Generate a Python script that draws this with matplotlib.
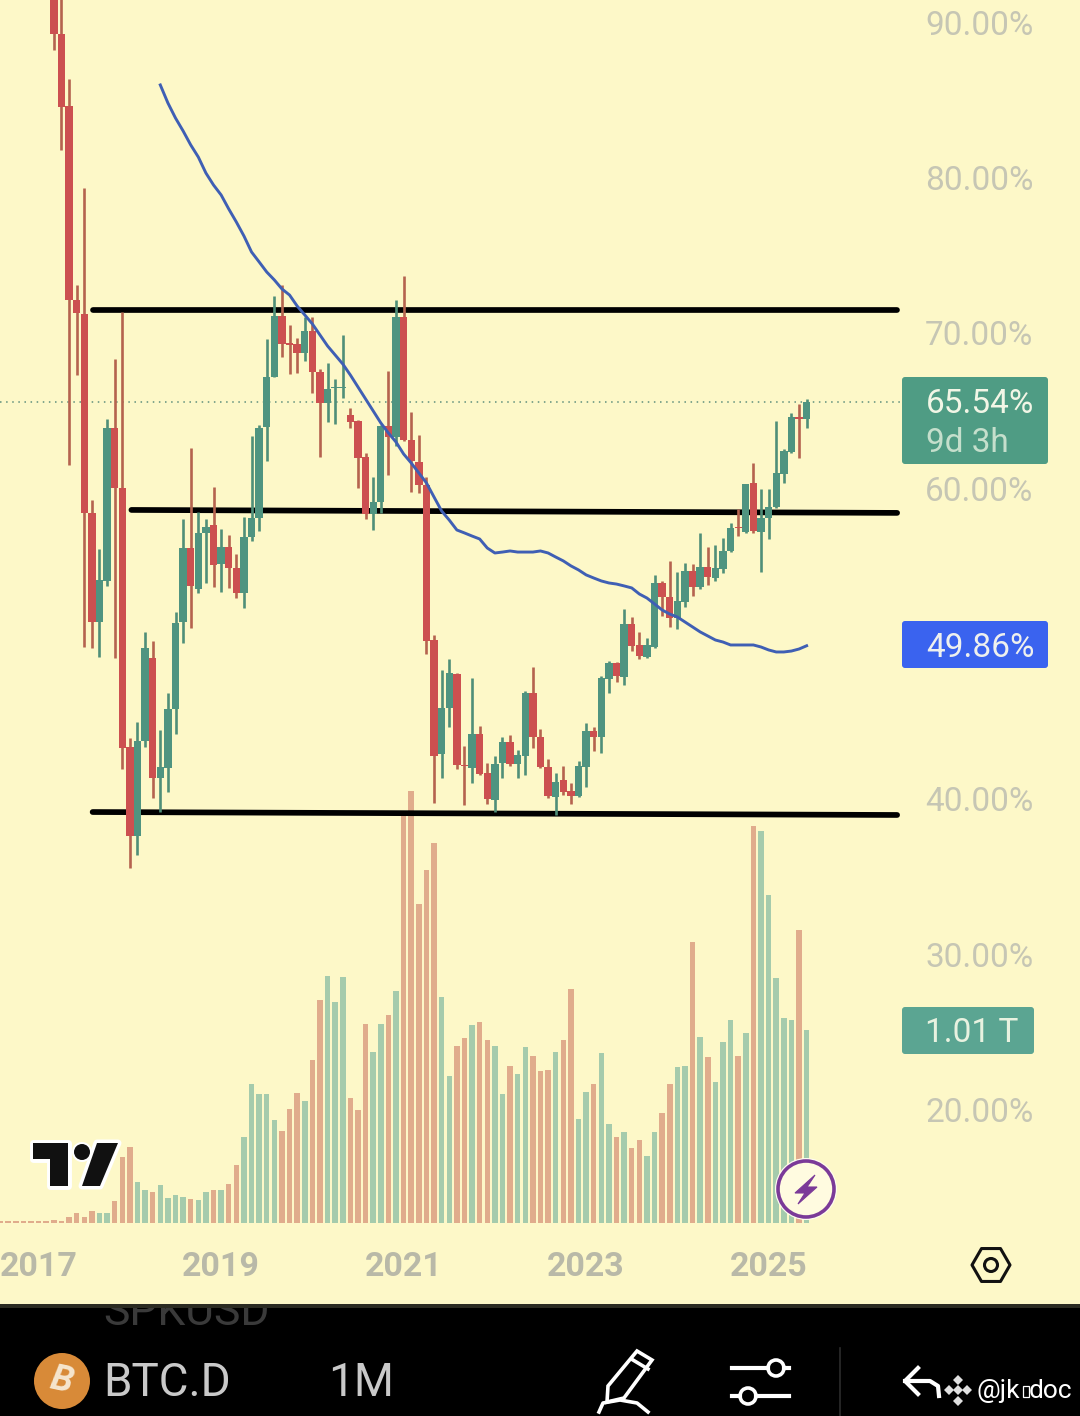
import numpy as np
import matplotlib
matplotlib.use('Agg')
import matplotlib.pyplot as plt
from matplotlib.patches import Circle, Polygon, FancyBboxPatch, Rectangle

# months since jan 2017, candles start at month 2
opens = [93.5, 89.23, 84.60, 72.11, 71.21, 58.40, 51.39, 54.03, 63.87, 60.01, 43.35, 37.62, 43.73, 49.07, 41.35, 42.0, 45.79, 51.39, 56.15, 53.51,
         57.12, 57.63, 55.12, 56.22, 54.86, 53.26, 56.86, 58.08, 63.94, 67.16, 71.08, 69.34, 69.28, 68.7, 70.12, 67.48, 65.48, 66.45, 66.45, 64.71,
         64.32, 62.01, 58.34, 59.11, 64.0, 63.3, 71.02, 63.1, 61.69, 60.21, 50.23, 42.9, 45.86, 48.04, 42.19, 42.0, 44.18, 41.67, 39.94, 42.32,
         43.67, 42.25, 42.77, 46.82, 43.99, 42.06, 40.13, 41.22, 40.52, 40.19, 42.06, 44.38, 43.99, 47.72, 48.75, 47.85, 51.26, 49.91, 49.14, 49.78,
         53.9, 53.0, 51.65, 52.68, 54.67, 53.64, 54.93, 54.22, 54.8, 55.96, 57.5, 57.18, 60.34, 57.18, 58.08, 58.79, 60.91, 62.33, 64.58, 64.45]
closes = [89.23, 84.53, 72.11, 71.27, 58.40, 51.39, 54.09, 63.87, 60.01, 43.28, 37.62, 43.73, 49.72, 41.35, 42.06, 45.79, 51.33, 56.15, 53.71, 57.12,
          57.5, 55.06, 56.22, 54.86, 53.26, 56.86, 58.08, 63.87, 67.16, 71.08, 69.28, 69.22, 68.7, 70.12, 67.48, 65.48, 66.38, 66.51, 66.51, 64.26,
          61.94, 58.34, 59.11, 64.0, 63.3, 71.02, 63.1, 61.75, 60.21, 50.17, 42.77, 45.86, 48.11, 42.19, 42.12, 44.18, 41.61, 40.0, 42.25, 43.67,
          42.25, 42.83, 46.82, 43.99, 42.06, 40.19, 41.09, 40.45, 40.19, 42.12, 44.38, 43.99, 47.79, 48.75, 47.92, 51.26, 49.85, 49.2, 49.91, 53.9,
          53.0, 51.65, 52.74, 54.67, 53.64, 54.93, 54.29, 54.86, 55.96, 57.44, 57.44, 60.27, 57.25, 58.08, 58.79, 60.98, 62.39, 64.58, 64.45, 65.54]
highs = [95, 92.5, 86.33, 73.08, 79.31, 59.24, 56.09, 64.45, 68.30, 71.34, 43.92, 44.96, 50.75, 50.17, 44.44, 46.82, 52.03, 58.02, 62.59, 58.47,
         58.02, 60.08, 57.37, 56.99, 55.77, 58.15, 63.36, 64.07, 69.6, 72.37, 73.08, 70.5, 69.67, 71.02, 71.02, 67.67, 68.06, 67.03, 69.86, 65.16,
         64.39, 62.27, 60.72, 64.07, 67.54, 72.11, 73.66, 64.9, 63.42, 60.72, 50.55, 48.3, 49.01, 48.11, 43.41, 47.79, 44.7, 42.32, 42.77, 43.99,
         44.12, 43.16, 46.95, 48.5, 44.5, 42.57, 41.67, 42.12, 41.03, 42.45, 44.89, 44.63, 47.92, 48.88, 48.82, 52.23, 51.71, 50.75, 50.36, 54.42,
         54.03, 55.32, 54.61, 55.19, 55.12, 57.12, 56.22, 56.34, 56.8, 57.76, 58.66, 60.3, 61.62, 59.95, 59.95, 64.32, 62.52, 64.84, 65.42, 65.74]
lows = [88.2, 81.76, 61.49, 67.28, 49.78, 49.71, 49.14, 53.71, 49.07, 41.93, 35.56, 36.40, 43.35, 40.06, 39.17, 40.45, 44.18, 50.04, 51.0, 53.26,
        53.9, 53.64, 53.32, 53.58, 52.93, 52.29, 56.6, 57.25, 61.75, 67.16, 68.44, 67.35, 67.41, 68.19, 66.13, 62.01, 64.26, 64.13, 65.8, 63.87,
        60.01, 58.02, 57.31, 58.4, 60.85, 62.72, 63.04, 59.76, 59.69, 49.33, 39.74, 41.35, 44.63, 41.93, 39.62, 41.03, 41.54, 39.68, 39.17, 41.35,
        42.12, 41.35, 41.54, 43.28, 42.0, 40.06, 38.97, 40.26, 39.68, 40.13, 40.77, 43.09, 42.96, 46.82, 47.53, 47.34, 49.52, 49.01, 49.1, 49.72,
        51.78, 51.07, 50.94, 52.36, 53.06, 53.51, 53.77, 54.03, 54.54, 55.9, 56.92, 57.12, 57.12, 54.61, 56.73, 58.72, 60.33, 62.27, 61.94, 63.87]

# moving average, starts at month 16
ma_line = [85.95, 84.79, 83.82, 82.99, 82.09, 81.31, 80.28, 79.51, 78.87, 77.97, 77.13, 76.23, 75.2, 74.56, 73.91, 73.4, 72.82, 72.43, 71.72, 71.15,
           70.57, 69.86, 69.15, 68.57, 67.99, 67.28, 66.51, 65.74, 64.97, 64.2, 63.55, 62.97, 62.2, 61.62, 60.98, 60.34, 59.43, 58.53, 57.95, 57.31,
           57.12, 56.92, 56.73, 56.15, 55.83, 55.89, 55.96, 55.89, 55.89, 55.89, 55.96, 55.83, 55.57, 55.32, 55.0, 54.74, 54.42, 54.22, 54.03, 53.9,
           53.83, 53.71, 53.58, 53.19, 52.93, 52.55, 52.16, 51.9, 51.71, 51.39, 51.07, 50.75, 50.49, 50.23, 50.1, 49.91, 49.91, 49.91, 49.91, 49.78,
           49.59, 49.46, 49.46, 49.52, 49.65, 49.86]

# volume in trillions, starts at month -5
volume = [0.008, 0.008, 0.008, 0.008, 0.008, 0.008, 0.008, 0.016, 0.008, 0.029, 0.052, 0.034, 0.063, 0.052, 0.052, 0.115, 0.345, 0.397, 0.214, 0.173,
          0.162, 0.199, 0.131, 0.146, 0.136, 0.126, 0.120, 0.162, 0.173, 0.173, 0.204, 0.303, 0.450, 0.727, 0.675, 0.675, 0.539, 0.481, 0.596, 0.680,
          0.638, 0.852, 1.166, 1.292, 1.156, 1.287, 0.654, 0.591, 1.041, 0.894, 1.041, 1.088, 1.213, 2.155, 2.259, 1.668, 1.846, 1.987, 1.182, 0.769,
          0.926, 0.968, 1.036, 1.051, 0.957, 0.926, 0.675, 0.821, 0.779, 0.920, 0.873, 0.795, 0.800, 0.894, 0.957, 1.224, 0.544, 0.685, 0.727, 0.889,
          0.518, 0.450, 0.476, 0.392, 0.434, 0.350, 0.476, 0.575, 0.727, 0.816, 0.821, 1.470, 0.973, 0.868, 0.737, 0.947, 1.062, 0.873, 0.994, 2.076,
          2.050, 1.715, 1.281, 1.072, 1.062, 1.532, 1.01]

price_ticks = [20, 30, 40, 50, 60, 70, 80, 90]
year_ticks = [0, 24, 48, 72, 96]
year_labels = ['2017', '2019', '2021', '2023', '2025']
last_price = 65.54
last_ma = 49.86
last_vol = '1.01 T'
countdown = '9d 3h'

# hand drawn levels, (month, percent)
level_top = ([7.1, 112.9], [71.47, 71.47])
level_mid = ([12.2, 112.9], [58.6, 58.41])
level_low = ([7.1, 112.9], [39.16, 38.97])

BG = '#fdf8c8'
RED = '#cc5050'
GREEN = '#4f9480'
RED_W = '#b5634f'
GREEN_W = '#4f8f78'
RED_V = '#e0ac8c'
GREEN_V = '#a5cbac'
AXIS_TXT = '#c6c6b4'

plt.rcParams['font.family'] = ['Roboto', 'DejaVu Sans']

fig = plt.figure(figsize=(10.8, 14.16), dpi=100, facecolor='black')
# chart panel, 1304 px tall, linear scale
vax = fig.add_axes([0, 112 / 1416, 1, 1304 / 1416], facecolor=BG)
ax = fig.add_axes([0, 112 / 1416, 1, 1304 / 1416], facecolor='none')

xlim = (-5.08, 136.95)
ax.set_xlim(xlim)
ax.set_ylim(7.5, 91.416)
vax.set_xlim(xlim)
vax.set_ylim(-0.4236, 6.396)

months = np.arange(2, 2 + len(opens))
up = np.array(closes) >= np.array(opens)
body_col = [GREEN if u else RED for u in up]
wick_col = [GREEN_W if u else RED_W for u in up]

vol_x = np.arange(-5, -5 + len(volume))
vol_col = [RED_V] * 7 + [GREEN_V if u else RED_V for u in up]
vax.bar(vol_x, volume, width=0.72, color=vol_col, linewidth=0)

ax.axhline(last_price, xmax=900 / 1080, color='#5f8f7c', lw=1.1, ls=(0, (1, 3)), zorder=1)
for lx, ly in [level_top, level_mid, level_low]:
    ax.plot(lx, ly, color='black', lw=4.1, solid_capstyle='round', zorder=2)

ax.vlines(months, lows, highs, colors=wick_col, lw=1.9, zorder=3)
bottoms = np.minimum(opens, closes)
heights = np.maximum(np.abs(np.array(closes) - np.array(opens)), 0.08)
ax.bar(months, heights, bottom=bottoms, width=0.97, color=body_col, linewidth=0, zorder=4)

ma_x = np.arange(16, 16 + len(ma_line))
ax.plot(ma_x, ma_line, color='#3f5fb4', lw=2.1, zorder=5)

ax.set_yticks(price_ticks)
ax.set_yticklabels(['%.2f%%' % t for t in price_ticks], fontsize=24, color=AXIS_TXT, ha='left', va='center_baseline')
ax.yaxis.tick_right()
ax.tick_params(axis='y', length=0, pad=-111.5)
ax.set_xticks(year_ticks)
ax.set_xticklabels(year_labels, fontsize=24.5, color='#b9b9a8', fontweight='bold')
ax.tick_params(axis='x', length=0, pad=-38)
vax.set_xticks([])
vax.set_yticks([])
for a in (ax, vax):
    for s in a.spines.values():
        s.set_visible(False)

# app furniture, in pixels
ov = fig.add_axes([0, 0, 1, 1], facecolor='none')
ov.set_xlim(0, 1080)
ov.set_ylim(1416, 0)
ov.axis('off')


def box(x0, y0, x1, y1, col):
    ov.add_patch(FancyBboxPatch((x0 + 3, y0 + 3), x1 - x0 - 6, y1 - y0 - 6, boxstyle='round,pad=3,rounding_size=3',
                                fc=col, ec='none'))


box(902, 377, 1048, 464, '#4f9c84')
ov.text(980, 404, '%.2f%%' % last_price, color='#f2f6e6', fontsize=24, ha='center', va='center')
ov.text(967, 443, countdown, color='#c5dfcc', fontsize=24, ha='center', va='center')
box(902, 621, 1048, 668, '#3a63ef')
ov.text(980, 648, '%.2f%%' % last_ma, color='#eef0ee', fontsize=24, ha='center', va='center')
box(902, 1007, 1034, 1054, '#5ba592')
ov.text(972, 1033, last_vol, color='#e8f2e0', fontsize=24, ha='center', va='center')

# tradingview logo
logo_t = [(33, 1143), (68, 1143), (68, 1186), (50, 1186), (50, 1159), (33, 1159)]
logo_s = [(97, 1143), (118, 1143), (100, 1186), (82, 1186)]
for pts in (logo_t, logo_s):
    ov.add_patch(Polygon(pts, fc='white', ec='white', lw=5, joinstyle='round'))
ov.add_patch(Circle((82, 1152), 10, fc='white', ec='none'))
for pts in (logo_t, logo_s):
    ov.add_patch(Polygon(pts, fc='#111111', ec='none'))
ov.add_patch(Circle((82, 1152), 8, fc='#111111', ec='none'))

# flash button
ov.add_patch(Circle((806, 1189), 31, fc='#fffdf0', ec='none'))
ov.add_patch(Circle((806, 1189), 28, fc='#fffbe0', ec='#7b3a98', lw=2.6))
ov.add_patch(Polygon([(815, 1175), (807, 1187), (817, 1187), (798, 1204), (805, 1193), (795, 1193)],
                     fc='#7b3a98', ec='#7b3a98', lw=0.8))

# settings hexagon
hx = 991 + 19 * np.cos(np.radians(np.arange(0, 360, 60)))
hy = 1265 + 19 * np.sin(np.radians(np.arange(0, 360, 60)))
ov.add_patch(Polygon(list(zip(hx, hy)), fc='none', ec='#111111', lw=2.2, joinstyle='round'))
ov.add_patch(Circle((991, 1265), 6.5, fc='none', ec='#111111', lw=2.2))

# bottom bar
ov.add_patch(Rectangle((0, 1304), 1080, 112, fc='black', ec='none'))
ov.add_patch(Rectangle((0, 1304), 1080, 4, fc='#2b2b22', ec='none'))
sym = ov.text(103, 1313, 'SPKUSD', color='#3a3a3a', fontsize=32, ha='left', va='center')
# only the lower part shows under the chart edge
sym_clip = Rectangle((0, 1308), 1080, 40, transform=ov.transData)
sym.set_clip_path(sym_clip)
sym.set_clip_on(True)
ov.add_patch(Circle((62, 1381), 28, fc='#d88a38', ec='none'))
ov.text(62, 1381, 'B', color='#f6e6cf', fontsize=26, fontweight='bold', ha='center', va='center', rotation=-12, style='italic')
ov.text(103, 1383, 'BTC.D', color='#c9c9c9', fontsize=33, ha='left', va='center')
ov.text(328, 1383, '1M', color='#c9c9c9', fontsize=33, ha='left', va='center')

# pencil
ov.add_patch(Polygon([(637, 1351), (652, 1360), (624, 1398), (607, 1402), (608, 1386)], fc='none', ec='white', lw=2.6))
ov.plot([633, 648], [1360, 1369], color='white', lw=2.6)
ov.plot([599, 603, 620, 637, 648], [1412, 1403, 1400, 1403, 1412], color='white', lw=2.6)
# sliders
ov.plot([732, 768], [1368, 1368], color='white', lw=3)
ov.plot([784, 789], [1368, 1368], color='white', lw=3)
ov.add_patch(Circle((776, 1368), 8, fc='none', ec='white', lw=2.6))
ov.plot([732, 740], [1396, 1396], color='white', lw=3)
ov.plot([756, 789], [1396, 1396], color='white', lw=3)
ov.add_patch(Circle((748, 1396), 8, fc='none', ec='white', lw=2.6))
ov.plot([840, 840], [1348, 1416], color='#2c2c2c', lw=1.2)
# undo arrow
ov.plot([905, 930, 938, 939], [1381, 1381, 1386, 1396], color='white', lw=3)
ov.plot([918, 905, 918], [1368, 1381, 1394], color='white', lw=3)
# watermark
for dx, dy in [(958, 1380), (949, 1390), (967, 1390), (958, 1401), (958, 1390)]:
    ov.add_patch(Polygon([(dx, dy - 5), (dx + 5, dy), (dx, dy + 5), (dx - 5, dy)], fc='#e0e0e0', ec='none'))
ov.text(976, 1391, '@jk', color='white', fontsize=19, ha='left', va='center')
ov.text(1029, 1391, 'doc', color='white', fontsize=19, ha='left', va='center')
ov.add_patch(Rectangle((1023, 1386), 6, 11, fc='none', ec='white', lw=0.9))

fig.savefig('out.png', dpi=100, facecolor='black')
